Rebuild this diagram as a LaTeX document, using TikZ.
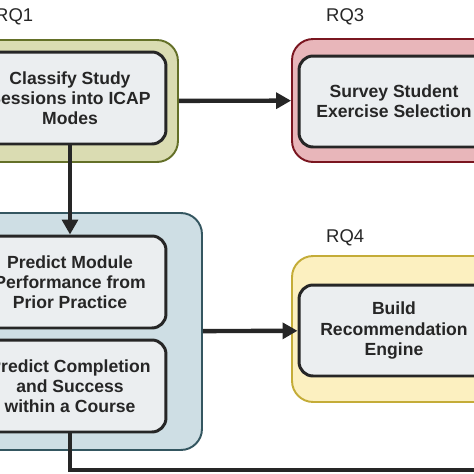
\documentclass[tikz,border=0pt]{standalone}
\usepackage{fontspec}
\setmainfont{Liberation Sans}
\usetikzlibrary{arrows.meta,positioning}
\definecolor{gc}{RGB}{218,220,178}
\definecolor{gd}{RGB}{100,112,40}
\definecolor{pc}{RGB}{232,182,186}
\definecolor{pd}{RGB}{122,22,32}
\definecolor{bc}{RGB}{206,222,228}
\definecolor{bd}{RGB}{52,86,96}
\definecolor{yc}{RGB}{252,240,192}
\definecolor{yd}{RGB}{196,172,56}
\definecolor{ic}{RGB}{235,238,240}
\definecolor{ink}{RGB}{38,38,38}
\tikzset{outer/.style={draw,line width=1.1pt,rounded corners=12pt},
 inner/.style={draw=ink,fill=ic,line width=1.7pt,rounded corners=8pt,align=center,
  minimum width=3.84cm,minimum height=1.84cm,font=\bfseries\fontsize{10}{11.4}\selectfont,text=ink},
 lbl/.style={anchor=west,font=\fontsize{10.5}{12}\selectfont,text=ink},
 wire/.style={draw=ink,line width=2.5pt},arr/.style={wire,-{Triangle[length=8.5pt,width=9pt]}}}
\begin{document}
\begin{tikzpicture}[x=0.02cm,y=-0.02cm]
\useasboundingbox (0,0) rectangle (474,474);
\clip (0,0) rectangle (474,474);
% outer boxes
\node[outer,draw=gd,fill=gc,minimum width=4.32cm,minimum height=2.44cm] (rq1) at (70,101) {};
\node[outer,draw=pd,fill=pc,minimum width=4.08cm,minimum height=2.46cm] (rq3) at (394,100.5) {};
\node[outer,draw=bd,fill=bc,minimum width=5.28cm,minimum height=4.74cm] (rq2) at (70,331.5) {};
\node[outer,draw=yd,fill=yc,minimum width=4.08cm,minimum height=2.92cm] (rq4) at (394,329) {};
\node[lbl] at (-11,17) {RQ1};
\node[lbl] at (320,17) {RQ3};
\node[lbl] at (320,238) {RQ4};
% inner boxes
\node[inner] (c1) at (70,98) {Classify Study\\Sessions into ICAP\\Modes};
\node[inner,minimum width=3.8cm,minimum height=1.82cm] (s1) at (394,101.5) {Survey Student\\Exercise Selection};
\node[inner] (p1) at (70,282) {Predict Module\\Performance from\\Prior Practice};
\node[inner] (p2) at (70,386) {Predict Completion\\and Success\\within a Course};
\node[inner,minimum width=3.8cm,minimum height=1.82cm] (b1) at (394,330.5) {Build\\Recommendation\\Engine};
\coordinate (out) at (520,470);
% connectors
\draw[arr] (rq1) -- (rq3);
\draw[arr] (c1) -- (p1);
\draw[arr] (rq2) -- (b1);
\draw[wire] (p2) |- (out);
\end{tikzpicture}
\end{document}
